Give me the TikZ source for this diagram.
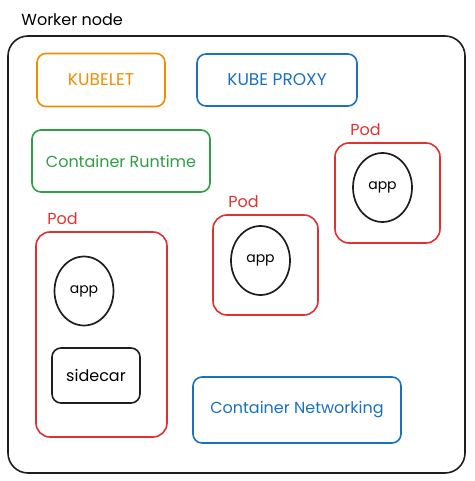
\documentclass[tikz,border=0pt]{standalone}
\usepackage{fontspec}
\setmainfont{Poppins}
\usetikzlibrary{positioning}
\usetikzlibrary{shapes.geometric}

\definecolor{exorange}{RGB}{240,140,0}
\definecolor{exblue}{RGB}{25,113,194}
\definecolor{exgreen}{RGB}{47,158,68}
\definecolor{exred}{RGB}{224,49,49}
\definecolor{exblack}{RGB}{30,30,30}

\begin{document}
\begin{tikzpicture}[x=1pt,y=-1pt,
		box/.style={draw,rectangle,rounded corners=9pt,line width=1.6pt,inner sep=0pt,font=\fontsize{16}{19}\selectfont},
		capsbox/.style={box,font=\fontsize{17}{20}\selectfont},
		podbox/.style={box,draw=exred,rounded corners=14pt},
		appnode/.style={draw=exblack,ellipse,line width=1.7pt,inner sep=0pt,minimum width=59pt,minimum height=69pt,font=\fontsize{14}{16}\selectfont},
		podlabel/.style={text=exred,inner sep=0pt,font=\fontsize{16}{18}\selectfont}]
			\useasboundingbox (0,0) rectangle (474,481);
			\node[box,draw=exblack,rounded corners=20pt,minimum width=457pt,minimum height=437pt] (worker) at (236.5,254.5) {};
			\node[inner sep=0pt,anchor=south west,font=\fontsize{16}{18}\selectfont] [above right=9pt and 14pt of worker.north west] (workerlbl) {Worker node};
			
			\node[capsbox,draw=exorange,text=exorange,minimum width=128pt,minimum height=53pt] (kubelet) at (101,80) {KUBELET};
			\node[capsbox,draw=exblue,text=exblue,minimum width=160pt,minimum height=52pt] (kubeproxy) at (277,80) {KUBE PROXY};
			\node[box,draw=exgreen,text=exgreen,minimum width=178pt,minimum height=62pt] (runtime) at (121,161) {Container Runtime};
			
			\node[podbox,minimum width=131pt,minimum height=205pt] (podA) at (101.5,334.5) {};
			\node[podlabel] [above right=6pt and 12pt of podA.north west,anchor=south west] (podAlbl) {Pod};
			\node[appnode] (appA) at (84,291) {app};
			\node[box,draw=exblack,minimum width=88pt,minimum height=55pt] (sidecar) at (96,375.5) {sidecar};
			
			\node[podbox,minimum width=105pt,minimum height=100pt] (podB) at (265.5,265) {};
			\node[podlabel] [above right=6pt and 16pt of podB.north west,anchor=south west] (podBlbl) {Pod};
			\node[appnode] (appB) at (260.5,260.5) {app};
			
			\node[podbox,minimum width=105pt,minimum height=100pt] (podC) at (387.5,193) {};
			\node[podlabel] [above right=6pt and 16pt of podC.north west,anchor=south west] (podClbl) {Pod};
			\node[appnode] (appC) at (382.5,187.5) {app};
			
			\node[box,draw=exblue,text=exblue,minimum width=208pt,minimum height=66pt] (network) at (297,410) {Container Networking};
		\end{tikzpicture}
\end{document}
